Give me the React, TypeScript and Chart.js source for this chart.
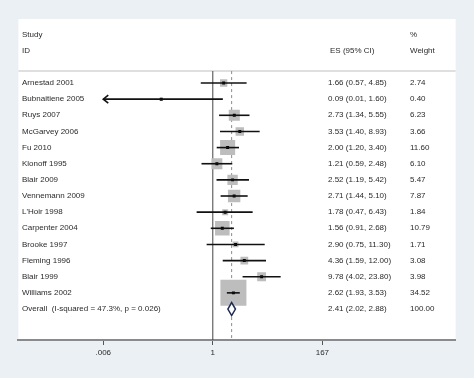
import React, { useEffect, useRef } from "react";
import { Chart, registerables } from "chart.js";

Chart.register(...registerables);

// ---------- data ----------
const studies = [
  "Arnestad 2001",
  "Bubnaitiene 2005",
  "Ruys 2007",
  "McGarvey 2006",
  "Fu 2010",
  "Klonoff 1995",
  "Blair 2009",
  "Vennemann 2009",
  "L'Hoir 1998",
  "Carpenter 2004",
  "Brooke 1997",
  "Fleming 1996",
  "Blair 1999",
  "Williams 2002",
];
const effectSizes = [1.66, 0.09, 2.73, 3.53, 2.0, 1.21, 2.52, 2.71, 1.78, 1.56, 2.9, 4.36, 9.78, 2.62];
const ciLower = [0.57, 0.005, 1.34, 1.4, 1.2, 0.59, 1.19, 1.44, 0.47, 0.91, 0.75, 1.59, 4.02, 1.93];
const ciUpper = [4.85, 1.6, 5.55, 8.93, 3.4, 2.48, 5.42, 5.1, 6.43, 2.68, 11.3, 12.0, 23.8, 3.53];
const weights = [2.74, 0.4, 6.23, 3.66, 11.6, 6.1, 5.47, 7.87, 1.84, 10.79, 1.71, 3.08, 3.98, 34.52];

const overallLabel = "Overall  (I-squared = 47.3%, p = 0.026)";
const overallES = 2.41;
const overallLower = 2.02;
const overallUpper = 2.88;
const overallWeight = 100.0;

const tickValues = [0.006, 1, 167];
const tickLabels = [".006", "1", "167"];

const headerStudy = ["Study", "ID"];
const headerES = "ES (95% CI)";
const headerWeight = ["%", "Weight"];

// ---------- layout / style ----------
const FONT = '8px "Liberation Sans", Arial, sans-serif';
const TEXT_COLOR = "#2a2a2a";
const NAME_X = 22;
const ES_X = 328;
const WEIGHT_X = 410;
const HEADER_ROWS = [-3, -2];
const HEADER_LINE_ROW = -0.74;
const OVERALL_ROW = studies.length;

const fmt = (v: number) => v.toFixed(2);

const forestPlugin = {
  id: "forest",
  beforeDraw(chart: any) {
    const { ctx, chartArea: ca } = chart;
    ctx.save();
    ctx.fillStyle = "#eaf0f3";
    ctx.fillRect(0, 0, chart.width, chart.height);
    ctx.fillStyle = "#ffffff";
    ctx.fillRect(ca.left, ca.top, ca.right - ca.left, ca.bottom - ca.top);
    ctx.restore();
  },
  beforeDatasetsDraw(chart: any) {
    const { ctx, chartArea: ca, scales } = chart;
    const xs = scales.x;
    const ys = scales.y;
    const lineY = ys.getPixelForValue(HEADER_LINE_ROW);
    ctx.save();
    // header separator line
    ctx.strokeStyle = "#d4d4d4";
    ctx.lineWidth = 1.5;
    ctx.beginPath();
    ctx.moveTo(ca.left, lineY);
    ctx.lineTo(ca.right, lineY);
    ctx.stroke();
    // null line at 1
    const x1 = xs.getPixelForValue(1);
    ctx.strokeStyle = "#444";
    ctx.lineWidth = 1;
    ctx.beginPath();
    ctx.moveTo(x1, lineY);
    ctx.lineTo(x1, ca.bottom);
    ctx.stroke();
    // overall dashed line
    const xo = xs.getPixelForValue(overallES);
    ctx.strokeStyle = "#8c8c8c";
    ctx.setLineDash([3, 3]);
    ctx.beginPath();
    ctx.moveTo(xo, lineY);
    ctx.lineTo(xo, ca.bottom);
    ctx.stroke();
    ctx.restore();
  },
  afterDatasetsDraw(chart: any) {
    const { ctx, scales } = chart;
    const xs = scales.x;
    const ys = scales.y;
    const axisMin = tickValues[0];
    ctx.save();
    // CI lines
    ctx.strokeStyle = "#111";
    ctx.lineWidth = 1.6;
    studies.forEach((_, i) => {
      const y = ys.getPixelForValue(i);
      const clipped = ciLower[i] < axisMin;
      const xl = xs.getPixelForValue(clipped ? axisMin : ciLower[i]);
      const xh = xs.getPixelForValue(ciUpper[i]);
      ctx.beginPath();
      ctx.moveTo(xl, y);
      ctx.lineTo(xh, y);
      ctx.stroke();
      if (clipped) {
        ctx.beginPath();
        ctx.moveTo(xl + 5, y - 4);
        ctx.lineTo(xl, y);
        ctx.lineTo(xl + 5, y + 4);
        ctx.stroke();
      }
    });
    // overall diamond
    const yo = ys.getPixelForValue(OVERALL_ROW);
    const half = 6.5;
    ctx.beginPath();
    ctx.moveTo(xs.getPixelForValue(overallLower), yo);
    ctx.lineTo(xs.getPixelForValue(overallES), yo - half);
    ctx.lineTo(xs.getPixelForValue(overallUpper), yo);
    ctx.lineTo(xs.getPixelForValue(overallES), yo + half);
    ctx.closePath();
    ctx.fillStyle = "#ffffff";
    ctx.fill();
    ctx.strokeStyle = "#1b2a55";
    ctx.lineWidth = 1.5;
    ctx.stroke();

    // text
    ctx.font = FONT;
    ctx.fillStyle = TEXT_COLOR;
    ctx.textBaseline = "middle";
    ctx.textAlign = "left";
    headerStudy.forEach((t, k) => ctx.fillText(t, NAME_X, ys.getPixelForValue(HEADER_ROWS[k])));
    ctx.fillText(headerES, ES_X + 2, ys.getPixelForValue(HEADER_ROWS[1]));
    headerWeight.forEach((t, k) => ctx.fillText(t, WEIGHT_X, ys.getPixelForValue(HEADER_ROWS[k])));
    studies.forEach((name, i) => {
      const y = ys.getPixelForValue(i);
      ctx.fillText(name, NAME_X, y);
      ctx.fillText(`${fmt(effectSizes[i])} (${fmt(ciLower[i])}, ${fmt(ciUpper[i])})`, ES_X, y);
      ctx.fillText(fmt(weights[i]), WEIGHT_X, y);
    });
    ctx.fillText(overallLabel, NAME_X, yo);
    ctx.fillText(`${fmt(overallES)} (${fmt(overallLower)}, ${fmt(overallUpper)})`, ES_X, yo);
    ctx.fillText(fmt(overallWeight), WEIGHT_X, yo);
    ctx.restore();
  },
};

export default function App() {
  const canvasRef = useRef<HTMLCanvasElement | null>(null);

  useEffect(() => {
    document.body.style.margin = "0";
    document.body.style.background = "#eaf0f3";
    const canvas = canvasRef.current;
    if (!canvas) return;

    const boxData = studies.map((_, i) => ({ x: effectSizes[i], y: i }));

    const chart = new Chart(canvas, {
      type: "scatter",
      data: {
        datasets: [
          {
            label: "Point estimate",
            data: boxData,
            pointStyle: "rect",
            pointRadius: 2.1,
            backgroundColor: "#000",
            borderWidth: 0,
            order: 1,
          },
          {
            label: "Weight",
            data: boxData,
            pointStyle: "rect",
            pointRadius: (c: any) => 3.13 * Math.sqrt(weights[c.dataIndex] ?? 0),
            backgroundColor: "#bdbdbd",
            borderWidth: 0,
            order: 2,
          },
        ],
      },
      options: {
        animation: false,
        responsive: false,
        devicePixelRatio: 1,
        events: [],
        layout: { padding: { top: 19, left: 17, right: 14, bottom: 0 } },
        plugins: { legend: { display: false }, tooltip: { enabled: false } },
        scales: {
          x: {
            type: "logarithmic",
            bounds: "data",
            min: Math.pow(10, -3.9435),
            max: Math.pow(10, 4.9254),
            afterBuildTicks: (scale: any) => {
              scale.ticks = tickValues.map((v) => ({ value: v }));
            },
            afterFit: (scale: any) => {
              scale.height = 38;
            },
            ticks: {
              autoSkip: false,
              maxRotation: 0,
              padding: 3,
              color: TEXT_COLOR,
              font: { family: '"Liberation Sans", Arial, sans-serif', size: 8 },
              callback: (v: any) => {
                const idx = tickValues.findIndex((t) => Math.abs(t - Number(v)) < 1e-9);
                return idx >= 0 ? tickLabels[idx] : "";
              },
            },
            grid: {
              display: true,
              drawOnChartArea: false,
              drawTicks: true,
              tickLength: 5,
              color: "#555",
              lineWidth: 1,
            },
            border: { display: true, color: "#8a8a8a", width: 2 },
          },
          y: {
            type: "linear",
            display: false,
            reverse: true,
            min: -3.965,
            max: 15.92,
          },
        },
      },
      plugins: [forestPlugin],
    } as any);

    return () => chart.destroy();
  }, []);

  return (
    <div style={{ width: 474, height: 378 }}>
      <canvas ref={canvasRef} width={474} height={378} style={{ display: "block" }} />
    </div>
  );
}
